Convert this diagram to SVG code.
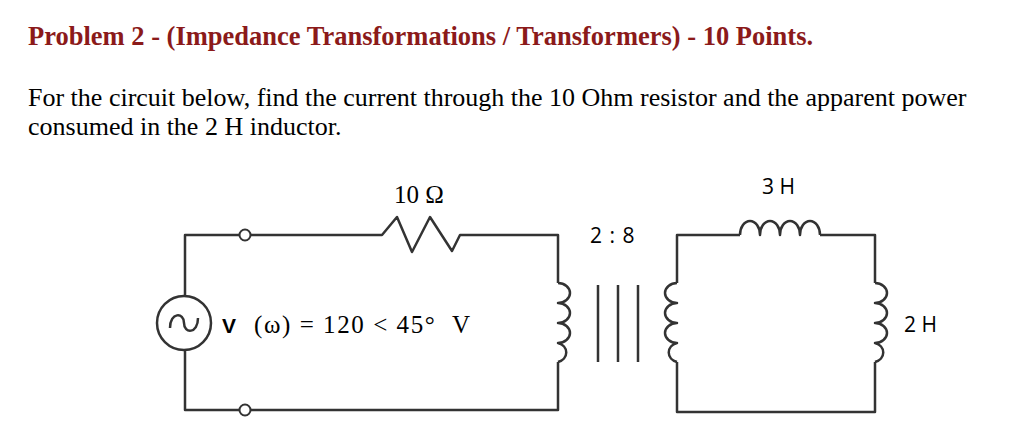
<svg xmlns="http://www.w3.org/2000/svg" width="1024" height="444" viewBox="0 0 1024 444">
<style>
.w{fill:none;stroke:#333;stroke-width:2.5;stroke-linejoin:round}
.s{font-family:"Liberation Serif",serif;font-size:26px;fill:#000}
.a{font-family:"Open Sans","DejaVu Sans",sans-serif;font-size:21px;fill:#000}
</style>
<rect width="1024" height="444" fill="#fff"/>
<text x="28" y="45" font-family="Liberation Serif,serif" font-weight="bold" font-size="26.5" fill="#8b1a1a">Problem 2  - (Impedance Transformations / Transformers) - 10 Points.</text>
<text class="s" x="28" y="106">For the circuit below, find the current through the 10 Ohm resistor and the apparent power</text>
<text class="s" x="28" y="135">consumed in the 2 H inductor.</text>
<g id="connectors">
<path class="w" d="M185,296 V235 H240 M250,235 H382 L397,217 L412,252 L430,217 L452,251 L460,235 H558 V283 M558,362 V410 H250 M240,410 H185 V350"/>
<path class="w" d="M740,235 H677 V283 M677,362 V412 H875 V362 M875,283 V235 H820"/>
</g>
<g id="source">
<circle class="w" cx="184" cy="323" r="27"/>
<path class="w" d="M170,328 C170,312 184,312 184,323 C184,334 198,334 198,318"/>
</g>
<g id="terminals">
<circle cx="245" cy="235" r="5.5" fill="#fff" stroke="#333" stroke-width="2"/>
<circle cx="245" cy="410" r="5.5" fill="#fff" stroke="#333" stroke-width="2"/>
</g>
<g id="primary"><path class="w" d="M558,283 a12,10 0 0 1 0,20 a12,10 0 0 1 0,20 a12,10 0 0 1 0,20 a12,10 0 0 1 0,19"/></g>
<g id="core"><path class="w" d="M598,285 V362 M618,285 V362 M638,285 V362"/></g>
<g id="secondary"><path class="w" d="M677,283 a12,10 0 0 0 0,20 a12,10 0 0 0 0,20 a12,10 0 0 0 0,20 a12,10 0 0 0 0,19"/></g>
<g id="L3"><path class="w" d="M740,235 a10,14 0 0 1 20,0 a10,14 0 0 1 20,0 a10,14 0 0 1 20,0 a10,14 0 0 1 20,0"/></g>
<g id="L2"><path class="w" d="M875,283 a12,10 0 0 1 0,20 a12,10 0 0 1 0,20 a12,10 0 0 1 0,20 a12,10 0 0 1 0,19"/></g>
<text x="394" y="203" font-family="Liberation Serif,serif" font-size="25">10 Ω</text>
<text class="a" x="590" y="243" font-size="23" letter-spacing="1">2 : 8</text>
<text class="a" x="762" y="194">3 H</text>
<text class="a" x="904" y="332">2 H</text>
<text x="222" y="333" font-family="Liberation Sans,sans-serif" font-weight="bold" font-size="21">V</text>
<text x="254" y="333" font-family="Liberation Serif,serif" font-size="25" xml:space="preserve" textLength="216" lengthAdjust="spacing">(ω) = 120 &lt; 45°  V</text>
</svg>
